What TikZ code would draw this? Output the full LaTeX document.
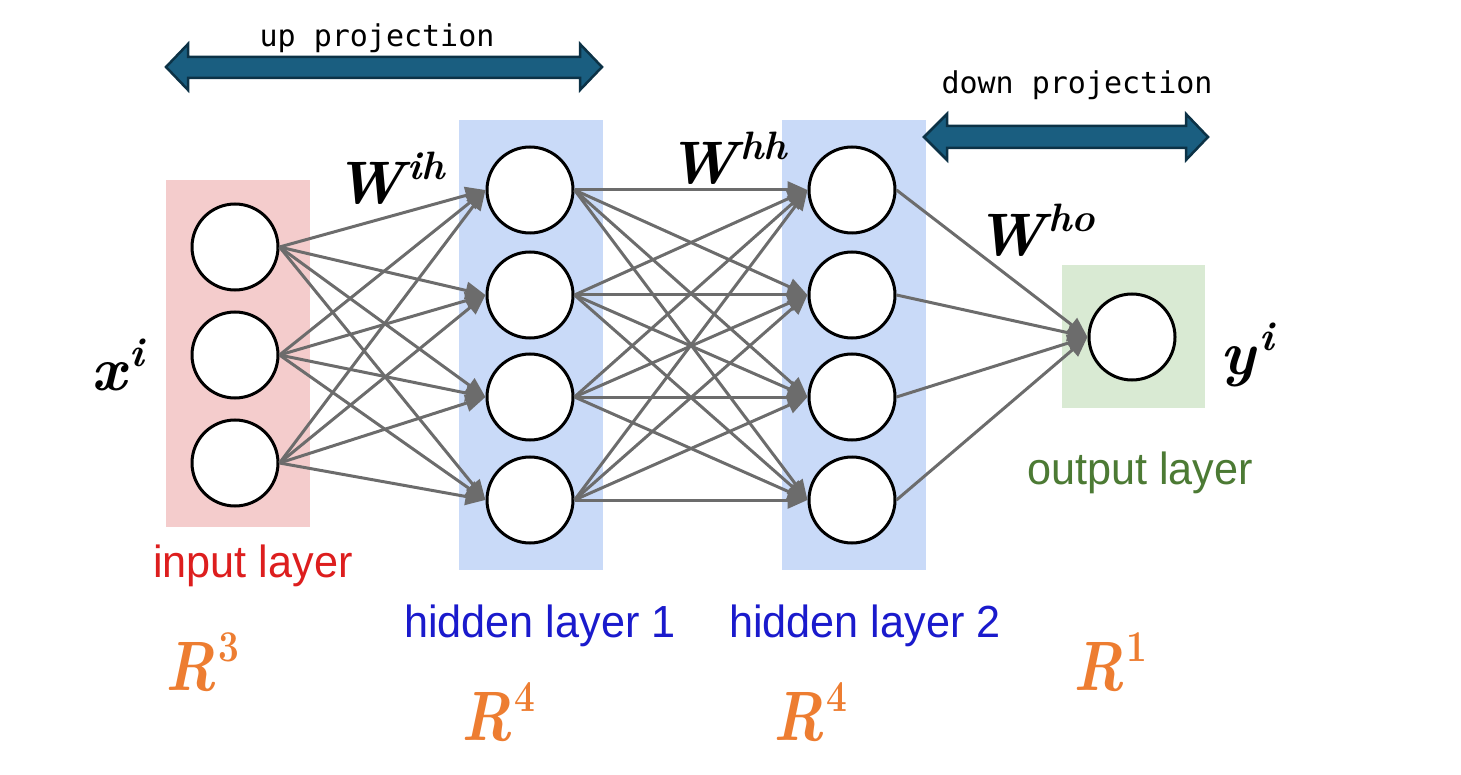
\documentclass[tikz,border=0pt]{standalone}
\usepackage{fontspec}
\usepackage{graphicx}
\usetikzlibrary{arrows.meta}
\newfontfamily\labfont[FakeStretch=0.96]{Liberation Sans}
\newfontfamily\codefont{DejaVu Sans Mono}
\definecolor{inpink}{HTML}{F4CCCC}
\definecolor{hidblue}{HTML}{C9DAF8}
\definecolor{outgreen}{HTML}{D9EAD3}
\definecolor{inred}{HTML}{DD1E1E}
\definecolor{hidtext}{HTML}{1A1ACC}
\definecolor{outtext}{HTML}{4C7A34}
\definecolor{rorange}{HTML}{ED7D31}
\definecolor{arrfill}{HTML}{1A5E80}
\definecolor{arrline}{HTML}{0C3246}
\definecolor{edgegray}{HTML}{6C6C6C}
\newcommand\suplab[3]{{\bfseries\itshape\fontsize{#3}{#3}\selectfont #1\kern0.06em\raisebox{0.40em}{\fontsize{0.66\dimexpr#3pt\relax}{10}\selectfont #2}}}
\newcommand\dimlab[2]{\scalebox{0.84}[1]{\bfseries\fontsize{70}{70}\selectfont\itshape #1\kern0.04em\raisebox{0.42em}{\upshape\fontsize{44}{44}\selectfont #2}}}
\tikzset{
  layerbox/.style={draw=none, minimum width=144pt, inner sep=0pt},
  neuron/.style={circle, draw=black, line width=3pt, fill=white, minimum size=86pt, inner sep=0pt},
  edge/.style={draw=edgegray, line width=3pt, -{Triangle[length=20pt,width=17pt]}},
  laytext/.style={font=\labfont\fontsize{45}{48}\selectfont, inner sep=0pt},
  mathlab/.style={inner sep=0pt},
  rlab/.style={text=rorange, inner sep=0pt},
  codetext/.style={font=\codefont\fontsize{30}{34}\selectfont, inner sep=0pt},
  bigarrow/.style={fill=arrfill, draw=arrline, line width=2.5pt, line join=miter}
}
\begin{document}
\begin{tikzpicture}[x=1pt,y=-1pt]
\useasboundingbox (0,0) rectangle (1461,775);
% layer backgrounds
\node[layerbox, fill=inpink, minimum height=347pt] (inbox) at (238,353.5) {};
\node[layerbox, fill=hidblue, minimum height=450pt] (h1box) at (531,345) {};
\node[layerbox, fill=hidblue, minimum height=450pt] (h2box) at (854,345) {};
\node[layerbox, fill=outgreen, minimum width=143pt, minimum height=143pt] (outbox) at (1133.5,336.5) {};
% neurons
\foreach \k/\y in {1/247,2/355,3/463} \node[neuron] (i\k) at (235,\y) {};
\foreach \k/\y in {1/190,2/295,3/397,4/500} \node[neuron] (a\k) at (530,\y) {};
\foreach \k/\y in {1/190,2/295,3/397,4/500} \node[neuron] (b\k) at (852,\y) {};
\node[neuron] (o1) at (1132,337) {};
% connections
\foreach \i in {1,2,3} \foreach \j in {1,2,3,4} \draw[edge] (i\i.east) -- (a\j.west);
\foreach \i in {1,2,3,4} \foreach \j in {1,2,3,4} \draw[edge] (a\i.east) -- (b\j.west);
\foreach \i in {1,2,3,4} \draw[edge] (b\i.east) -- (o1.west);
% layer names
\node[laytext, text=inred] (inname) at (253,566) {input layer};
\node[laytext, text=hidtext] (h1name) at (540,626) {hidden layer 1};
\node[laytext, text=hidtext] (h2name) at (865,626) {hidden layer 2};
\node[laytext, text=outtext] (outname) at (1140,473) {output layer};
% math labels
\node[mathlab] (xi) at (118,365) {\suplab{x}{i}{62}};
\node[mathlab] (yi) at (1247,355) {\suplab{y}{i}{62}};
\node[mathlab] (wih) at (390,178) {\suplab{W}{ih}{60}};
\node[mathlab] (whh) at (727,158) {\suplab{W}{hh}{60}};
\node[mathlab] (who) at (1035,230) {\suplab{W}{ho}{60}};
% dimension labels
\node[rlab] (r3) at (202,662) {\dimlab{R}{3}};
\node[rlab] (r4a) at (498,712) {\dimlab{R}{4}};
\node[rlab] (r4b) at (810,712) {\dimlab{R}{4}};
\node[rlab] (r1) at (1110,662) {\dimlab{R}{1}};
% projection arrows
\draw[bigarrow] (166,67) -- (188,44) -- (188,57) -- (580,57) -- (580,44) -- (602,67)
  -- (580,90) -- (580,78) -- (188,78) -- (188,90) -- cycle;
\node[codetext] (upt) at (377,38) {up projection};
\draw[bigarrow] (924,137) -- (947,114) -- (947,126) -- (1186,126) -- (1186,114) -- (1208,137)
  -- (1186,160) -- (1186,148) -- (947,148) -- (947,160) -- cycle;
\node[codetext] (downt) at (1077,85) {down projection};
\end{tikzpicture}
\end{document}
